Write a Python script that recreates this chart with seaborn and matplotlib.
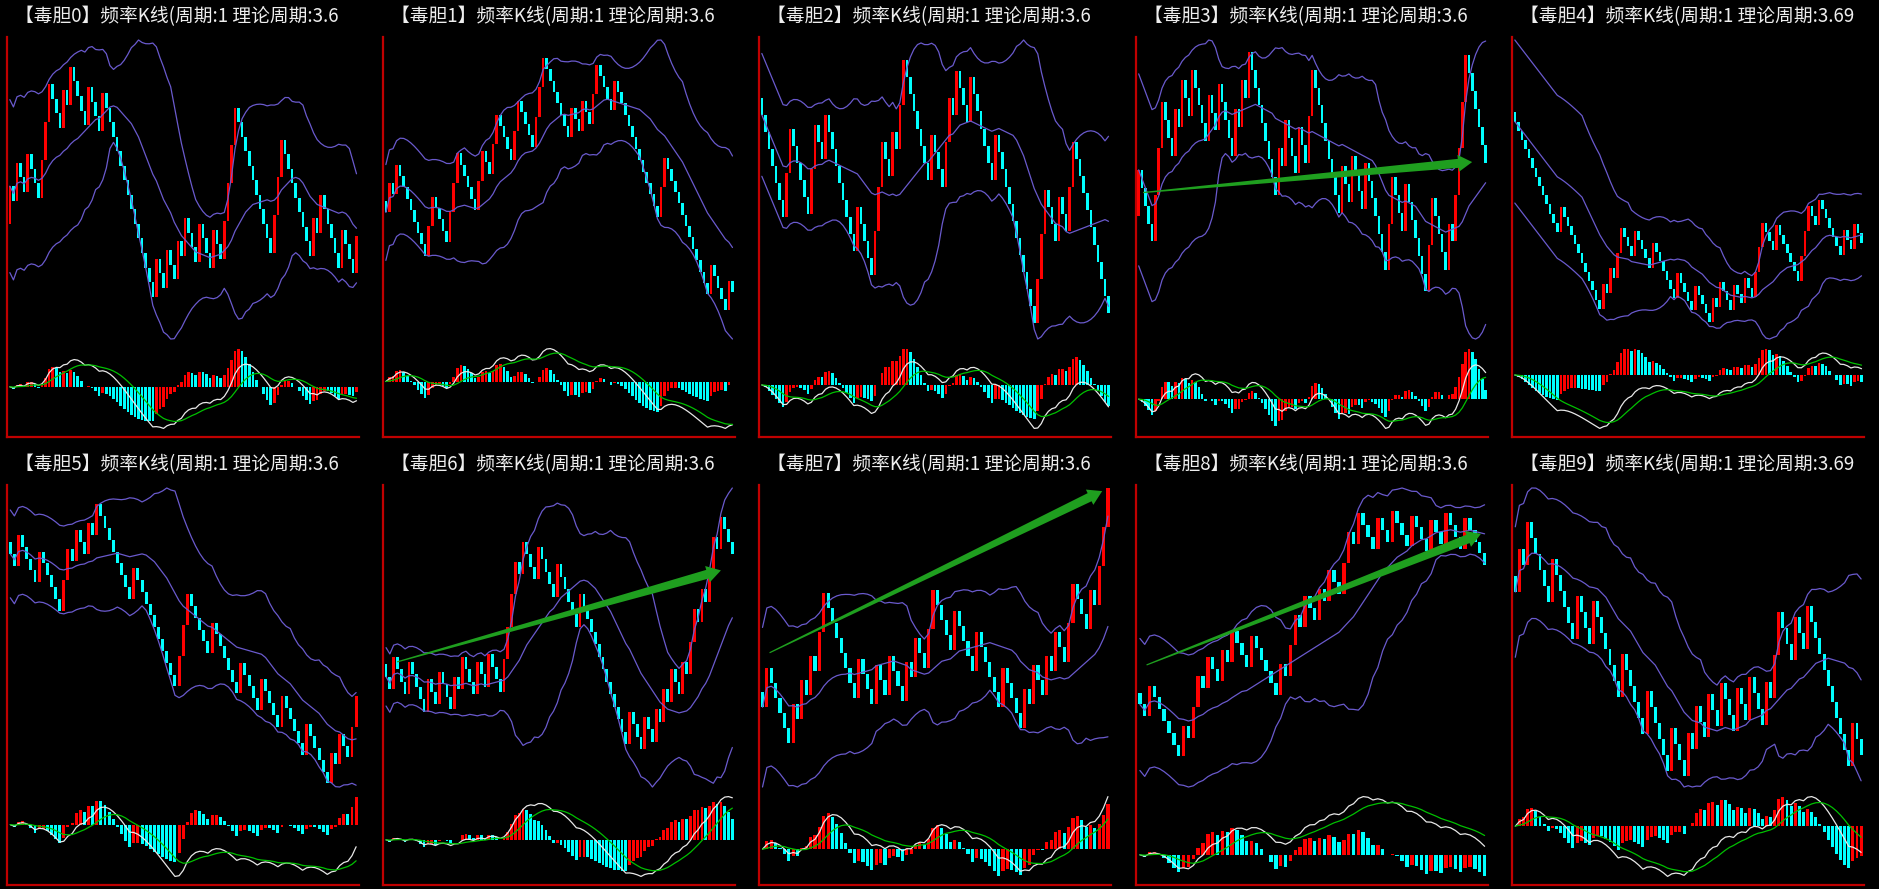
import numpy as np
import pandas as pd
import matplotlib
matplotlib.use("Agg")
import matplotlib.pyplot as plt
from matplotlib.patches import Polygon
import seaborn as sns

# panel titles
names = ["毒胆0", "毒胆1", "毒胆2", "毒胆3", "毒胆4", "毒胆5", "毒胆6", "毒胆7", "毒胆8", "毒胆9"]
periods = ["3.6", "3.6", "3.6", "3.6", "3.69", "3.6", "3.6", "3.6", "3.6", "3.69"]

# misses (cyan candles) between consecutive hits (red candles)
gaps0 = [0, 1, 2, 3, 0, 0, 3, 1, 4, 3, 14, 2, 2, 1, 3, 3, 2, 0, 0, 0, 10, 0, 0, 8, 1, 5, 3, 0]
gaps1 = [1, 1, 8, 0, 4, 0, 0, 5, 0, 2, 0, 4, 0, 4, 0, 0, 7, 2, 2, 0, 4, 12, 0, 12, 4, 1]
gaps2 = [7, 0, 5, 0, 2, 8, 4, 0, 0, 2, 1, 0, 7, 3, 0, 1, 3, 6, 11, 0, 0, 3, 2, 0, 10]
gaps3 = [0, 4, 0, 0, 3, 1, 2, 4, 2, 4, 1, 1, 8, 1, 3, 2, 0, 8, 2, 3, 6, 0, 3, 6, 0, 4, 1, 0, 0, 0, 6]
gaps4 = [13, 11, 1, 1, 0, 3, 4, 6, 4, 4, 1, 3, 2, 2, 0, 0, 3, 6, 0, 0, 2, 6, 2, 2]
gaps5 = [2, 4, 5, 0, 1, 2, 1, 8, 10, 0, 0, 5, 6, 4, 4, 5, 5, 1, 2, 0, 0]
gaps6 = [2, 3, 4, 2, 3, 1, 3, 2, 3, 0, 0, 0, 1, 3, 4, 5, 12, 3, 2, 1, 1, 2, 1, 0, 1, 1, 0, 1, 3]
gaps7 = [1, 5, 1, 1, 1, 0, 7, 3, 2, 3, 1, 2, 0, 4, 4, 5, 4, 1, 2, 1, 2, 0, 3, 1, 0, 0, 0]
gaps8 = [2, 6, 1, 0, 1, 2, 1, 3, 5, 1, 0, 1, 2, 1, 2, 0, 1, 3, 2, 3, 3, 2, 3, 4]
gaps9 = [1, 1, 5, 5, 3, 6, 5, 5, 3, 1, 2, 2, 3, 2, 3, 1, 0, 3, 2, 10, 2]
all_gaps = [gaps0, gaps1, gaps2, gaps3, gaps4, gaps5, gaps6, gaps7, gaps8, gaps9]

# hand-drawn trend arrows (tail x, tail y, tip x, tip y) in panel fractions
arrows = {
    3: (0.02, 0.49, 0.955, 0.59),
    6: (0.04, 0.42, 0.96, 0.72),
    7: (0.03, 0.45, 0.975, 0.98),
    8: (0.03, 0.41, 0.98, 0.84),
}

sns.set_style("dark")
plt.rcParams['font.family'] = ['Noto Sans CJK SC', 'DejaVu Sans']

W, H = 1879, 889
fig = plt.figure(figsize=(W / 100, H / 100), dpi=100, facecolor="black")

band_color = "#6a5acd"
up_color = "#ff0000"
down_color = "#00ffff"
spine_color = "#c00000"
lefts = [7, 383, 759, 1136, 1512]
tops = [37, 485]
pw = 352


def expand(gaps):
    seq = []
    for i, g in enumerate(gaps):
        seq += [0] * g
        if i < len(gaps) - 1:
            seq.append(1)
    return np.array(seq)


def draw_arrow(ax, x0, y0, x1, y1):
    p0 = ax.transAxes.transform((x0, y0))
    p1 = ax.transAxes.transform((x1, y1))
    d = (p1 - p0) / np.linalg.norm(p1 - p0)
    n = np.array([-d[1], d[0]])
    base = p1 - d * 14
    pts = [p0 + n * 0.6, base + n * 4.5, base + n * 8.5, p1,
           base - n * 8.5, base - n * 4.5, p0 - n * 0.6]
    pts = fig.transFigure.inverted().transform(np.array(pts))
    fig.add_artist(Polygon(pts, closed=True, transform=fig.transFigure,
                           facecolor="#1f9f1f", edgecolor="none", zorder=20))


for k in range(10):
    row, col = divmod(k, 5)
    left, top = lefts[col], tops[row]
    hit = float(periods[k]) - 1
    seq = expand(all_gaps[k])
    steps = np.where(seq == 1, hit, -1.0)
    close = pd.Series(np.cumsum(steps))
    opn = close.shift(1).fillna(0.0)
    idx = np.arange(len(close))

    # BOLL(20, 2); the first window's spread is used until 20 bars exist
    mid = close.rolling(20, min_periods=1).mean()
    sd = close.rolling(20, min_periods=20).std(ddof=0).bfill()
    upper, lower = mid + 2 * sd, mid - 2 * sd

    # MACD(12, 26, 9)
    dif = close.ewm(span=12, adjust=False).mean() - close.ewm(span=26, adjust=False).mean()
    dea = dif.ewm(span=9, adjust=False).mean()
    hist = 2 * (dif - dea)
    hcol = np.where(hist.diff().fillna(0) >= 0, up_color, down_color)

    frame = fig.add_axes([left / W, 1 - (top + 400) / H, pw / W, 400 / H])
    frame.set_facecolor("black")
    frame.set_xticks([])
    frame.set_yticks([])
    for s in ["top", "right"]:
        frame.spines[s].set_visible(False)
    for s in ["left", "bottom"]:
        frame.spines[s].set_color(spine_color)
        frame.spines[s].set_linewidth(1.6)

    pax = fig.add_axes([left / W, 1 - (top + 305) / H, pw / W, 305 / H])
    pax.set_facecolor("none")
    pax.axis("off")
    body = close - opn
    pax.bar(idx, body, bottom=opn, width=0.72,
            color=np.where(seq == 1, up_color, down_color), linewidth=0)
    for band in (upper, mid, lower):
        sns.lineplot(x=idx, y=band.values, ax=pax, color=band_color,
                     linewidth=0.9, legend=False, sort=False)
    lo = min(lower.min(), np.minimum(close, opn).min())
    hi = max(upper.max(), np.maximum(close, opn).max())
    pad = (hi - lo) * 0.01
    pax.set_ylim(lo - pad, hi + pad)
    pax.set_xlim(-0.8, len(idx) - 0.3)

    max_ = fig.add_axes([left / W, 1 - (top + 393) / H, pw / W, 83 / H])
    max_.set_facecolor("none")
    max_.axis("off")
    max_.bar(idx, hist.values, width=0.72, color=hcol, linewidth=0)
    sns.lineplot(x=idx, y=dif.values, ax=max_, color="#e8e8e8",
                 linewidth=0.9, legend=False, sort=False)
    sns.lineplot(x=idx, y=dea.values, ax=max_, color="#00c000",
                 linewidth=0.9, legend=False, sort=False)
    mlo = min(dif.min(), dea.min(), hist.min())
    mhi = max(dif.max(), dea.max(), hist.max())
    max_.set_ylim(mlo - (mhi - mlo) * 0.02, mhi + (mhi - mlo) * 0.02)
    max_.set_xlim(-0.8, len(idx) - 0.3)

    fig.text((left + 8) / W, 1 - (top - 20) / H,
             f"【{names[k]}】频率K线(周期:1 理论周期:{periods[k]}",
             color="#eeeeee", fontsize=13.5, ha="left", va="center")

    if k in arrows:
        draw_arrow(pax, *arrows[k])

fig.savefig("out.png", dpi=100, facecolor="black")
